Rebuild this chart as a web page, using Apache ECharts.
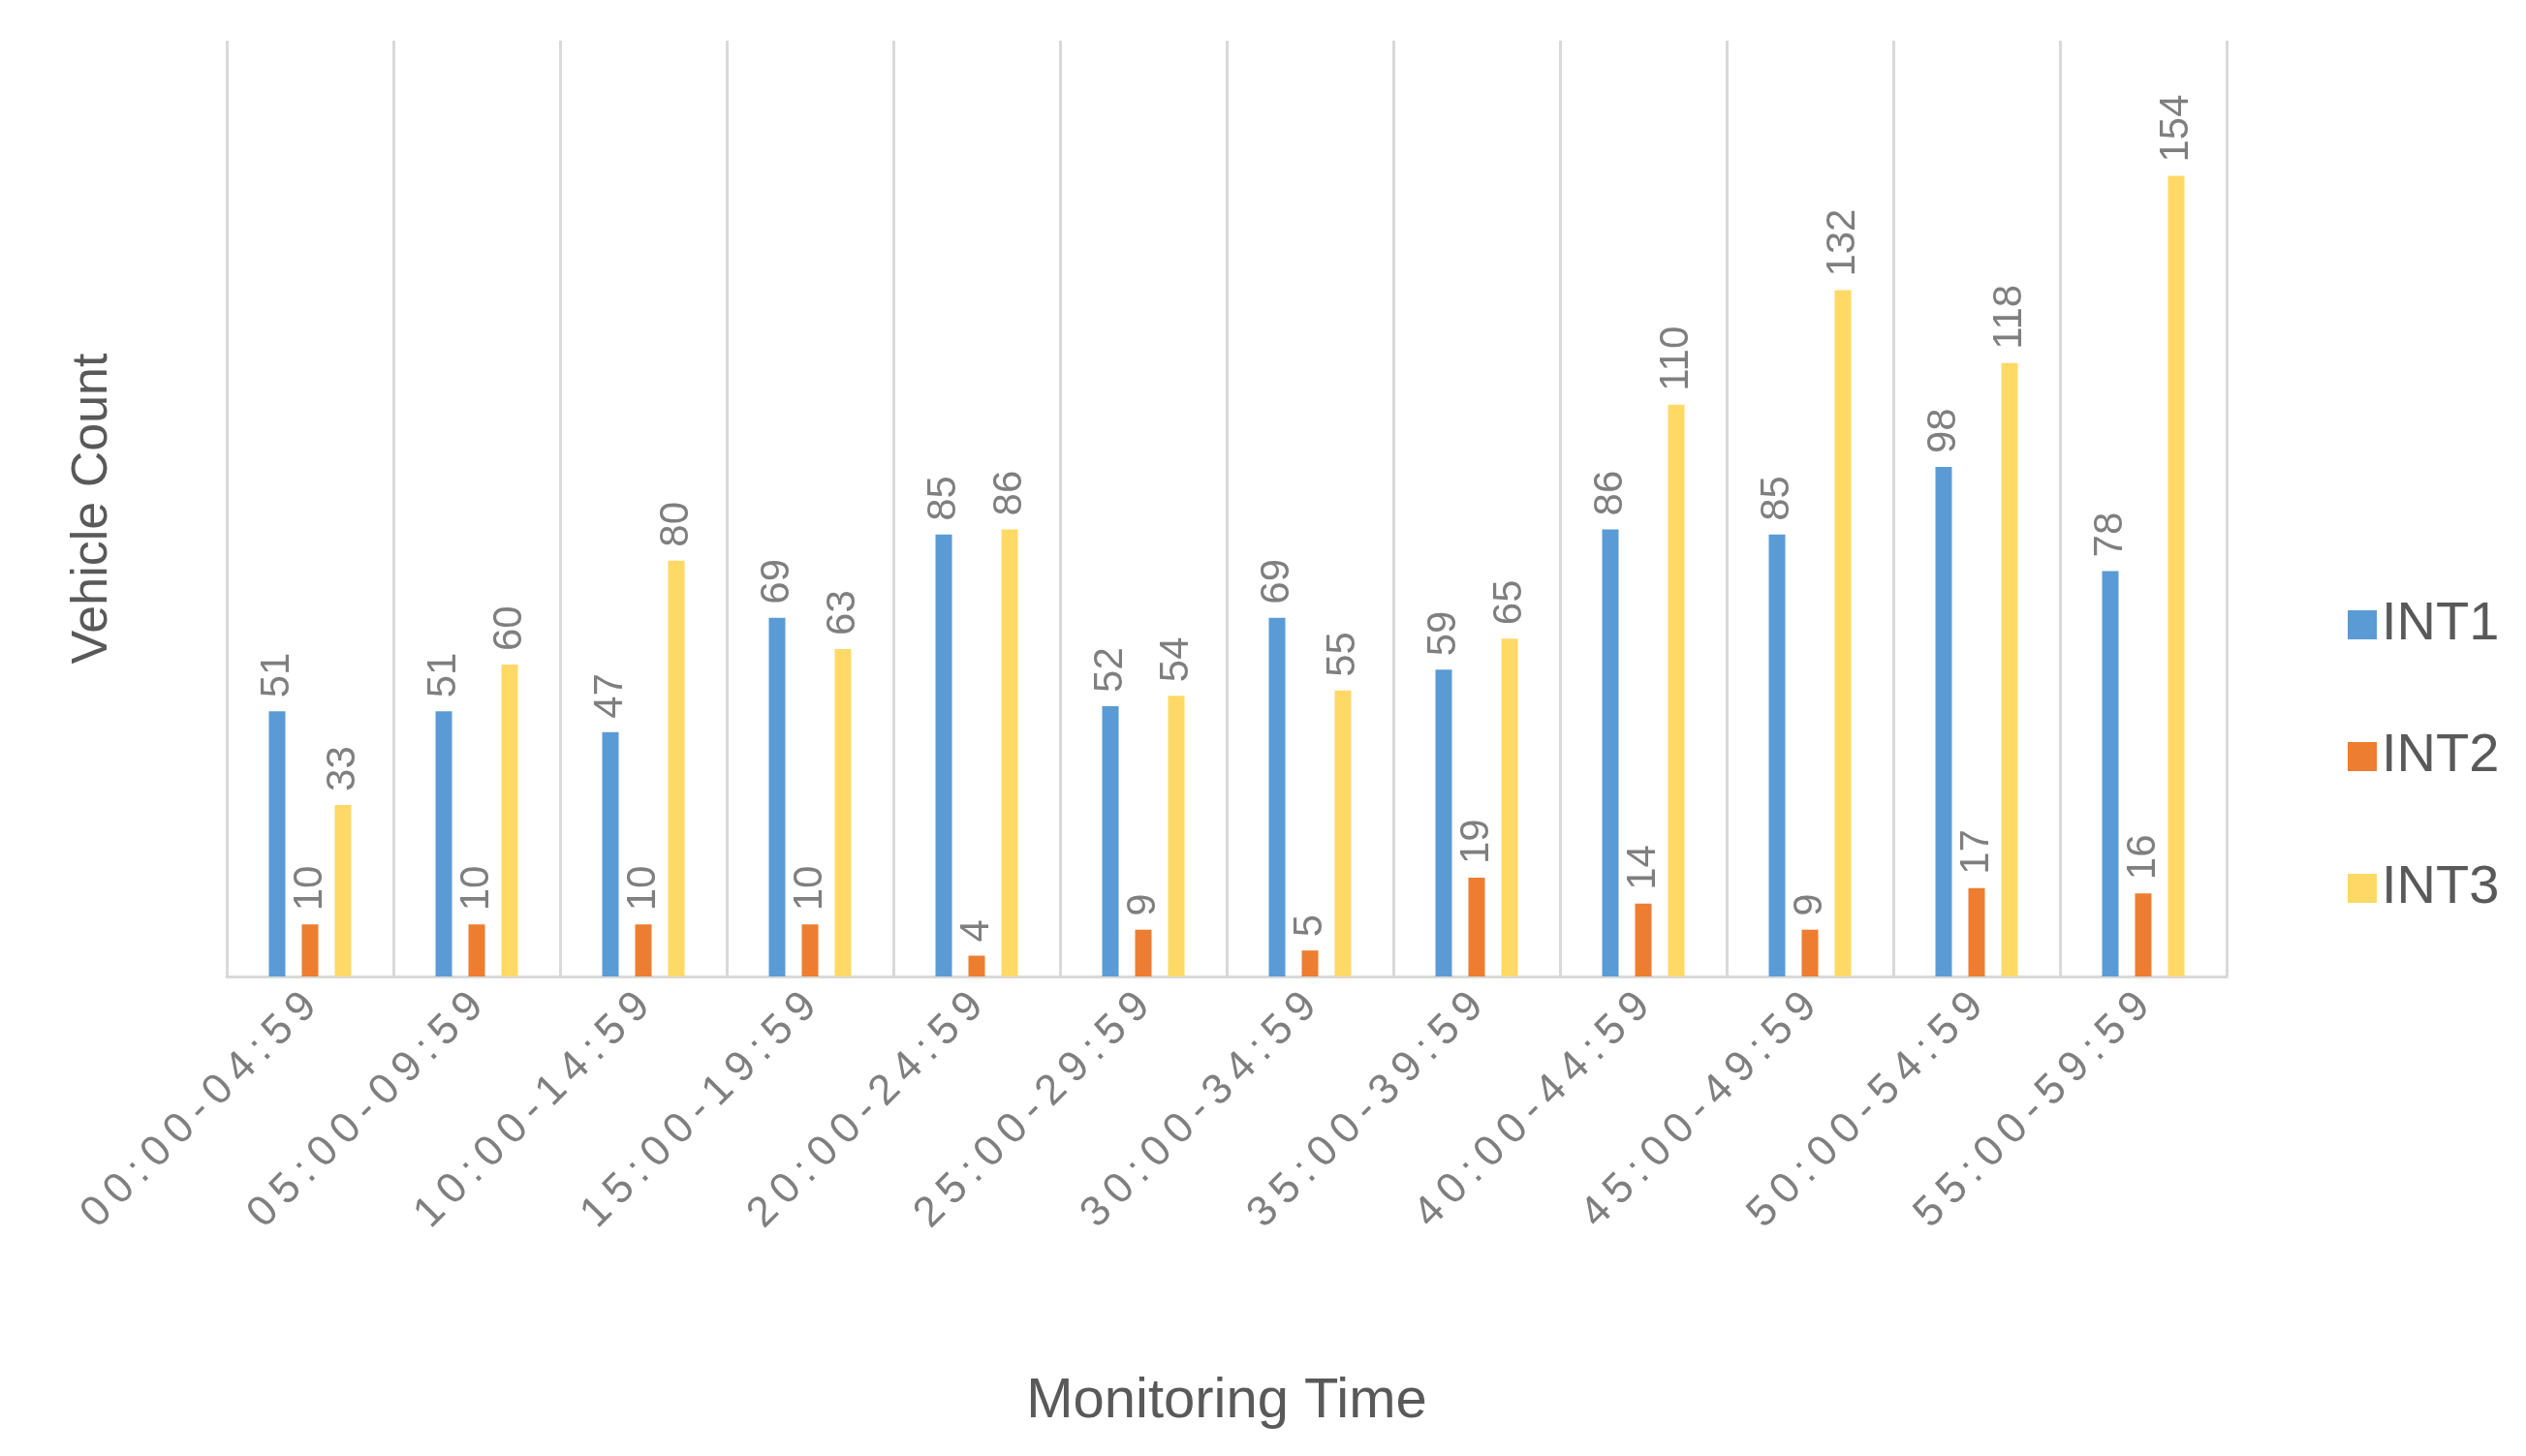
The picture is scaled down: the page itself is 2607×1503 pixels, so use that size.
<!DOCTYPE html>
<html><head><meta charset="utf-8">
<script src="https://cdn.jsdelivr.net/npm/echarts@6/dist/echarts.min.js"></script>
<style>html,body{margin:0;padding:0;background:#fff}#c{width:2607px;height:1503px}</style>
</head><body><div id="c"></div>
<script>
const categories = ["00:00-04:59","05:00-09:59","10:00-14:59","15:00-19:59","20:00-24:59","25:00-29:59","30:00-34:59","35:00-39:59","40:00-44:59","45:00-49:59","50:00-54:59","55:00-59:59"];
const int1 = [51,51,47,69,85,52,69,59,86,85,98,78];
const int2 = [10,10,10,10,4,9,5,19,14,9,17,16];
const int3 = [33,60,80,63,86,54,55,65,110,132,118,154];
const labelStyle = {show:true, position:'top', rotate:90, align:'left', verticalAlign:'middle', distance:14, color:'#7f7f7f', fontSize:42, fontFamily:'Liberation Sans'};
const mk = (name, data, color) => ({name, type:'bar', data, barWidth:17, barGap:'100%', itemStyle:{color}, label:labelStyle});
const chart = echarts.init(document.getElementById('c'));
chart.setOption({
  animation:false,
  grid:{left:234, right:309, top:42, bottom:495},
  legend:{orient:'vertical', left:2418, top:612, itemGap:80, itemWidth:30, itemHeight:30,
    textStyle:{fontSize:56, color:'#595959', fontFamily:'Liberation Sans'},
    data:[{name:'INT1',icon:'rect'},{name:'INT2',icon:'rect'},{name:'INT3',icon:'rect'}]},
  xAxis:{type:'category', data:categories, name:'Monitoring Time', nameLocation:'middle', nameGap:410,
    nameTextStyle:{fontSize:58, color:'#595959', fontFamily:'Liberation Sans'},
    axisLine:{lineStyle:{color:'#d9d9d9', width:3}}, axisTick:{show:false},
    splitLine:{show:true, lineStyle:{color:'#d9d9d9', width:3}},
    axisLabel:{rotate:45, fontSize:44, color:'#7f7f7f', margin:24, interval:0, fontFamily:'Liberation Sans',
      formatter: v => v.split('').join('\u2009')}},
  yAxis:{type:'value', min:0, max:180, interval:20, name:'Vehicle Count', nameLocation:'middle', nameGap:112,
    nameTextStyle:{fontSize:52, color:'#595959', fontFamily:'Liberation Sans'},
    axisLabel:{show:false}, axisLine:{show:false}, axisTick:{show:false}, splitLine:{show:false}},
  series:[mk('INT1',int1,'#5b9bd5'), mk('INT2',int2,'#ed7d31'), mk('INT3',int3,'#ffd966')]
});
</script></body></html>
